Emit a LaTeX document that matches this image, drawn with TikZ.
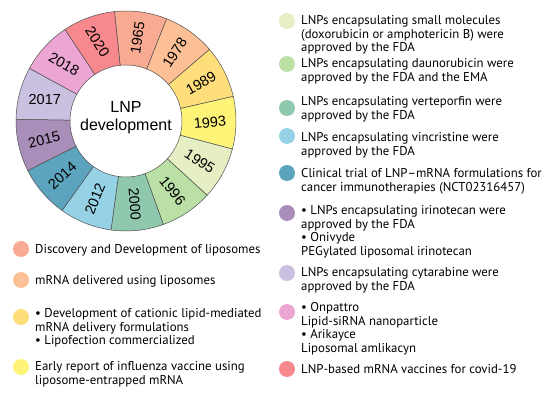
\documentclass[tikz,border=0pt]{standalone}
\usepackage{fontspec}
\setmainfont{PT Sans}
\newfontfamily\ringfont{Liberation Sans}
\definecolor{c1965}{RGB}{249,170,146}
\definecolor{c1978}{RGB}{252,191,150}
\definecolor{c1989}{RGB}{253,222,122}
\definecolor{c1993}{RGB}{254,244,120}
\definecolor{c1995}{RGB}{230,238,196}
\definecolor{c1996}{RGB}{186,224,166}
\definecolor{c2000}{RGB}{143,200,172}
\definecolor{c2012}{RGB}{150,210,230}
\definecolor{c2014}{RGB}{92,164,190}
\definecolor{c2015}{RGB}{170,142,186}
\definecolor{c2017}{RGB}{202,192,224}
\definecolor{c2018}{RGB}{236,166,212}
\definecolor{c2020}{RGB}{246,136,142}
\definecolor{edge}{RGB}{80,80,80}
\tikzset{
  seg/.style={draw=edge, line width=0.5pt},
  yearlbl/.style={font=\ringfont\fontsize{14.5}{16}\selectfont, inner sep=0pt},
  dot/.style={circle, minimum size=16pt, inner sep=0pt},
  legtxt/.style={anchor=north west, align=left, inner sep=0pt, font=\fontsize{12.8}{13.5}\selectfont},
}
\begin{document}
\begin{tikzpicture}[x=1pt,y=1pt]
\useasboundingbox (0,0) rectangle (550,-393);
\begin{scope}[shift={(126,-121)}]
\foreach \i/\yr/\rot in {0/1965/82,1/1978/57,2/1989/30,3/1993/5,4/1995/-33,5/1996/-52,6/2000/-86,7/2012/68,8/2014/42,9/2015/14,10/2017/0,11/2018/-30,12/2020/-58}{
  \pgfmathsetmacro\a{96-\i*27.6923}
  \pgfmathsetmacro\b{\a-27.6923}
  \pgfmathsetmacro\c{\a-13.846}
  \filldraw[seg, fill=c\yr] (\a:56pt) arc[start angle=\a, end angle=\b, radius=56pt] -- (\b:110pt) arc[start angle=\b, end angle=\a, radius=110pt] -- cycle;
  \node[yearlbl, rotate=\rot] (y\yr) at (\c:84pt) {\yr};
}
\node[font=\ringfont\fontsize{16}{18}\selectfont, align=center, inner sep=0pt] (center) at (0,3) {LNP\\development};
\end{scope}
% left legend
\node[dot, fill=c1965] (d1965) at (21,-249) {};
\node[legtxt] (t1965) at (35,-244.5) {Discovery and Development of liposomes};
\node[dot, fill=c1978] (d1978) at (21,-280) {};
\node[legtxt] (t1978) at (35,-275.5) {mRNA delivered using liposomes};
\node[dot, fill=c1989] (d1989) at (21,-317) {};
\node[legtxt] (t1989) at (35,-308.5) {• Development of cationic lipid-mediated\\mRNA delivery formulations\\• Lipofection commercialized};
\node[dot, fill=c1993] (d1993) at (21,-367) {};
\node[legtxt] (t1993) at (35,-361.5) {Early report of influenza vaccine using\\liposome-entrapped mRNA};
% right legend
\node[dot, fill=c1995] (d1995) at (287,-21) {};
\node[legtxt] (t1995) at (301,-15.5) {LNPs encapsulating small molecules\\(doxorubicin or amphotericin B) were\\approved by the FDA};
\node[dot, fill=c1996] (d1996) at (287,-64) {};
\node[legtxt] (t1996) at (301,-58.5) {LNPs encapsulating daunorubicin were\\approved by the FDA and the EMA};
\node[dot, fill=c2000] (d2000) at (287,-108) {};
\node[legtxt] (t2000) at (301,-96.5) {LNPs encapsulating verteporfin were\\approved by the FDA};
\node[dot, fill=c2012] (d2012) at (287,-136) {};
\node[legtxt] (t2012) at (301,-132.5) {LNPs encapsulating vincristine were\\approved by the FDA};
\node[dot, fill=c2014] (d2014) at (287,-173) {};
\node[legtxt] (t2014) at (301,-168.5) {Clinical trial of LNP–mRNA formulations for\\cancer immunotherapies (NCT02316457)};
\node[dot, fill=c2015] (d2015) at (287,-213) {};
\node[legtxt] (t2015) at (301,-205.5) {• LNPs encapsulating irinotecan were\\approved by the FDA\\• Onivyde\\PEGylated liposomal irinotecan};
\node[dot, fill=c2017] (d2017) at (287,-273) {};
\node[legtxt] (t2017) at (301,-267.5) {LNPs encapsulating cytarabine were\\approved by the FDA};
\node[dot, fill=c2018] (d2018) at (287,-312) {};
\node[legtxt] (t2018) at (301,-302.5) {• Onpattro\\Lipid-siRNA nanoparticle\\• Arikayce\\Liposomal amlikacyn};
\node[dot, fill=c2020] (d2020) at (287,-369) {};
\node[legtxt] (t2020) at (301,-364.5) {LNP-based mRNA vaccines for covid-19};
\end{tikzpicture}
\end{document}
